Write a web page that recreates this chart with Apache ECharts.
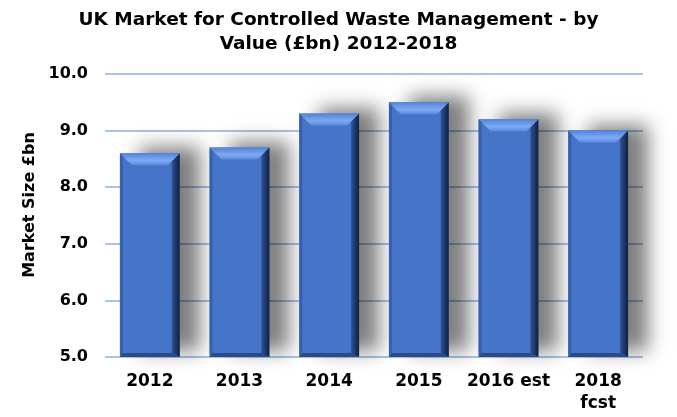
<!DOCTYPE html>
<html>
<head>
<meta charset="utf-8">
<script src="https://cdn.jsdelivr.net/npm/echarts@6/dist/echarts.min.js"></script>
<style>
html,body{margin:0;padding:0;background:#fff;}
#c{width:677px;height:417px;}
</style>
</head>
<body>
<div id="c"></div>
<script>
const categories = ['2012', '2013', '2014', '2015', '2016 est', '2018\nfcst'];
const values = [8.6, 8.7, 9.3, 9.5, 9.2, 9.0];
const yMin = 5, yMax = 10, yInterval = 1;
const titleText = 'UK Market for Controlled Waste Management - by\nValue (£bn) 2012-2018';
const yName = 'Market Size £bn';

const FONT = 'DejaVu Sans';

function renderItem(params, api) {
  const i = api.value(0);
  const v = api.value(1);
  const top = api.coord([i, v]);
  const bot = api.coord([i, yMin]);
  const w = api.size([1, 0])[0] * 0.667;
  const x0 = top[0] - w / 2, x1 = x0 + w;
  const y0 = top[1], y1 = bot[1];
  const h = y1 - y0;
  const b = 12, r = 8, l = 3, bb = 4;
  return {
    type: 'group',
    children: [
      {
        type: 'rect',
        shape: { x: x0, y: y0, width: w, height: h },
        style: {
          fill: '#4674c8',
          shadowBlur: 18,
          shadowColor: 'rgba(0,0,0,0.5)',
          shadowOffsetX: 20,
          shadowOffsetY: -6
        }
      },
      {
        type: 'polygon',
        shape: { points: [[x0, y0], [x0 + l, y0 + l], [x0 + l, y1 - bb], [x0, y1]] },
        style: { fill: '#3560ad' }
      },
      {
        type: 'polygon',
        shape: { points: [[x1, y0], [x1, y1], [x1 - r, y1 - bb], [x1 - r, y0 + r]] },
        style: {
          fill: new echarts.graphic.LinearGradient(0, 0, 1, 0, [
            { offset: 0, color: '#2e5397' },
            { offset: 1, color: '#101f3d' }
          ])
        }
      },
      {
        type: 'polygon',
        shape: { points: [[x0, y1], [x1, y1], [x1 - r, y1 - bb], [x0 + l, y1 - bb]] },
        style: { fill: '#2a4b8a' }
      },
      {
        type: 'polygon',
        shape: { points: [[x0, y0], [x1, y0], [x1 - b, y0 + b], [x0 + b, y0 + b]] },
        style: {
          fill: new echarts.graphic.LinearGradient(0, 0, 0, 1, [
            { offset: 0, color: '#5483d6' },
            { offset: 0.6, color: '#7eaaf3' },
            { offset: 1, color: '#5b89dc' }
          ])
        }
      }
    ]
  };
}

const chart = echarts.init(document.getElementById('c'), null, { renderer: 'canvas' });
chart.setOption({
  animation: false,
  backgroundColor: '#ffffff',
  title: {
    text: titleText,
    left: 'center',
    top: 3,
    textStyle: {
      fontFamily: FONT,
      fontWeight: 'bold',
      fontSize: 18.5,
      lineHeight: 24,
      color: '#000'
    }
  },
  graphic: [{
    type: 'text',
    x: 30,
    y: 205,
    rotation: Math.PI / 2,
    style: {
      text: yName,
      fontFamily: FONT,
      fontWeight: 'bold',
      fontSize: 16,
      fill: '#000',
      align: 'center',
      verticalAlign: 'middle'
    }
  }],
  grid: { left: 105, right: 34, top: 74, bottom: 60 },
  xAxis: {
    type: 'category',
    data: categories,
    axisLine: { show: false },
    axisTick: { show: false },
    axisLabel: {
      fontFamily: FONT,
      fontWeight: 'bold',
      fontSize: 17,
      color: '#000',
      margin: 14,
      lineHeight: 22,
      interval: 0
    }
  },
  yAxis: {
    type: 'value',
    min: yMin,
    max: yMax,
    interval: yInterval,
    axisLine: { show: false },
    axisTick: { show: false },
    axisLabel: {
      fontFamily: FONT,
      fontWeight: 'bold',
      fontSize: 16,
      color: '#000',
      margin: 17,
      formatter: v => v.toFixed(1)
    },
    splitLine: { lineStyle: { color: '#a7c4e2', width: 2 } }
  },
  series: [{
    type: 'custom',
    renderItem: renderItem,
    data: values.map((v, i) => [i, v]),
    encode: { x: 0, y: 1 }
  }]
});
</script>
</body>
</html>
